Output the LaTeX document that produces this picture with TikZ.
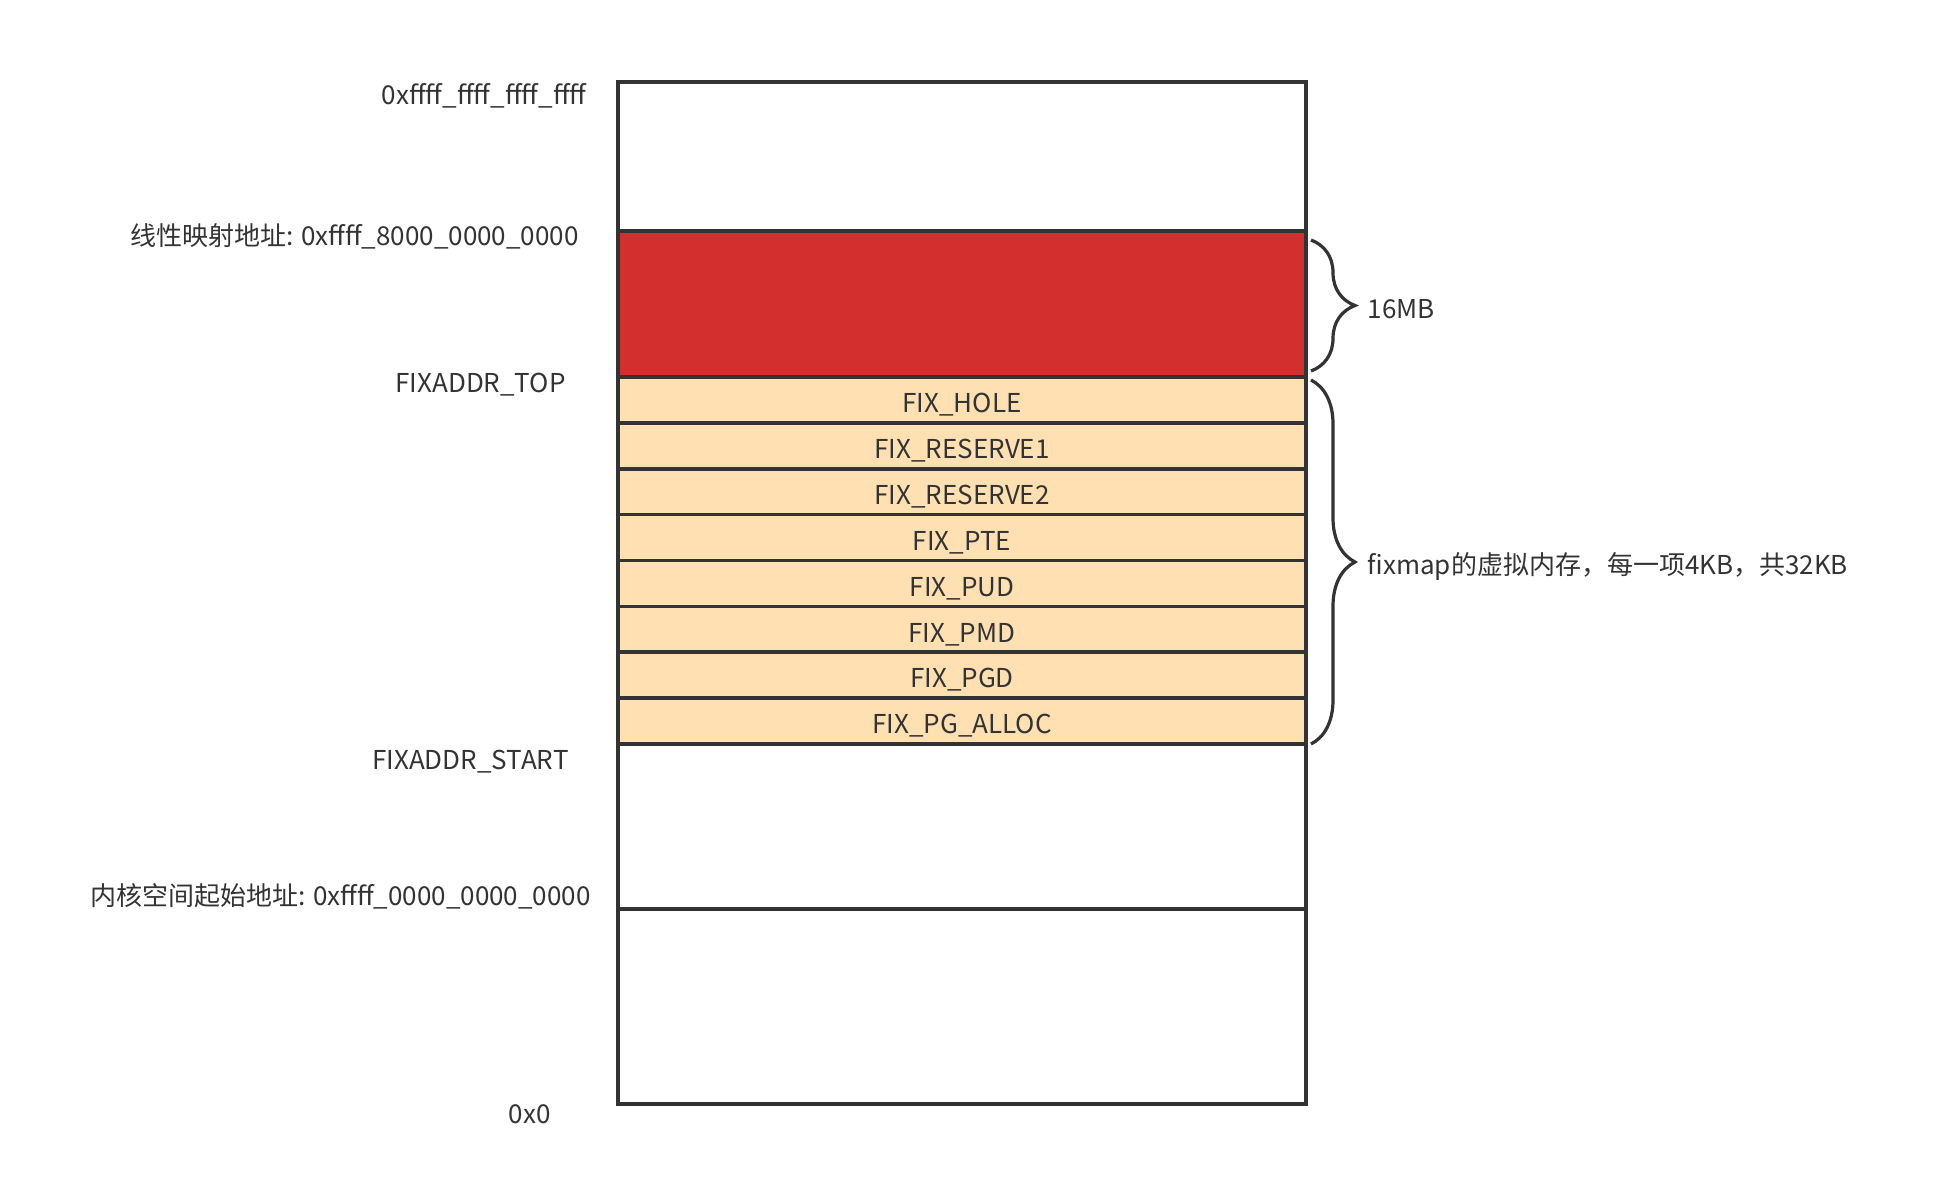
\documentclass[tikz,border=0pt]{standalone}
\usepackage{fontspec}
\setmainfont{Noto Sans CJK SC}
\usepackage{tikz}
\usetikzlibrary{positioning,decorations.pathreplacing}

\definecolor{linecol}{HTML}{333333}
\definecolor{mapred}{HTML}{D32F2F}
\definecolor{fixfill}{HTML}{FFE0B2}

\tikzset{
  seg/.style={draw=linecol, line width=1.8pt, minimum width=344pt, inner sep=0pt, outer sep=0pt},
  fixent/.style={seg, fill=fixfill, minimum height=22.94pt, text height=12.7pt, text depth=0pt, text=linecol, font=\fontsize{13}{13}\selectfont},
  addr/.style={anchor=east, inner sep=0pt, yshift=-2pt, text=linecol, font=\fontsize{13}{13}\selectfont},
  sizebrace/.style={draw=linecol, line width=1.6pt, decorate, decoration={brace, amplitude=22pt}},
  sizelabel/.style={anchor=west, inner sep=0pt, yshift=-2pt, text=linecol, font=\fontsize{13}{13}\selectfont},
}

\begin{document}
\begin{tikzpicture}[x=0.5pt, y=-0.5pt]
  \useasboundingbox (0,0) rectangle (1958,1196);

  % Define nodes
  \node[seg, anchor=north west, minimum height=74.5pt] (upper) at (618,82) {};
  \node[seg, fill=mapred, minimum height=73pt, below=0pt of upper, alias=fix0] (linear) {};
  \foreach \name [count=\i, evaluate=\i as \j using int(\i-1)] in
      {FIX\_HOLE, FIX\_RESERVE1, FIX\_RESERVE2, FIX\_PTE, FIX\_PUD, FIX\_PMD, FIX\_PGD, FIX\_PG\_ALLOC}
    \node[fixent, below=0pt of fix\j] (fix\i) {\name};
  \node[seg, minimum height=82.5pt, below=0pt of fix8] (kgap) {};
  \node[seg, minimum height=97.5pt, below=0pt of kgap] (user) {};

  % Address labels
  \node[addr] (vtop)   at (587,92)   {0xffff\_ffff\_ffff\_ffff};
  \node[addr] (vlin)   at (579,232)  {线性映射地址: 0xffff\_8000\_0000\_0000};
  \node[addr] (ftop)   at (566,381)  {FIXADDR\_TOP};
  \node[addr] (fstart) at (569,758)  {FIXADDR\_START};
  \node[addr] (vkern)  at (591,892)  {内核空间起始地址: 0xffff\_0000\_0000\_0000};
  \node[addr] (vzero)  at (551,1110) {0x0};

  % Braces
  \coordinate (b1s) at (1311,240);
  \coordinate (b1e) at (1311,371);
  \coordinate (b2s) at (1311,380);
  \coordinate (b2e) at (1311,744);
  \draw[sizebrace] (b1s) -- (b1e) node[sizelabel, midway, xshift=27.5pt] (mb16) {16MB};
  \draw[sizebrace] (b2s) -- (b2e) node[sizelabel, midway, xshift=27.5pt] (fixsz) {fixmap的虚拟内存，每一项4KB，共32KB};
\end{tikzpicture}
\end{document}
